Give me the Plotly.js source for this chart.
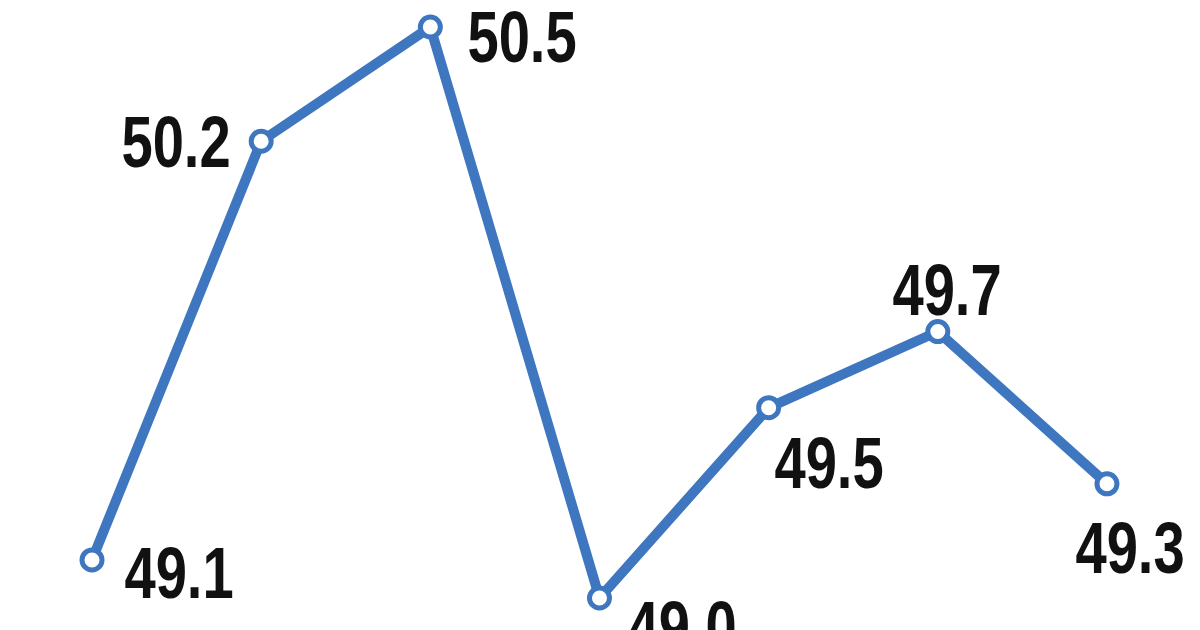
<!DOCTYPE html>
<html>
<head>
<meta charset="utf-8">
<script src="https://cdn.plot.ly/plotly-3.0.1.min.js"></script>
<style>
  html, body { margin: 0; padding: 0; background: #fff; }
  #chart { width: 1200px; height: 630px; }
  /* narrow the labels, the reference uses a condensed face */
  #chart text.annotation-text {
    transform-box: fill-box;
    transform-origin: 50% 50%;
    transform: scaleX(0.78);
  }
</style>
</head>
<body>
<div id="chart"></div>
<script>
var points = [0, 1, 2, 3, 4, 5, 6]
var values = [49.1, 50.2, 50.5, 49.0, 49.5, 49.7, 49.3]
var valueLabels = ["49.1", "50.2", "50.5", "49.0", "49.5", "49.7", "49.3"]

// label offsets from each marker, in pixels
var labelShift = [
    [87, -13], [-85, -1], [92, -10], [83, -29],
    [60, -55], [9, 42], [23, -64]
]

var blue = "#3e77bf"
var labelFont = {
    family: "Liberation Sans, Arial, sans-serif",
    size: 72,
    weight: "bold",
    color: "#111111",
}

Plotly.newPlot(
    document.getElementById("chart"),
    [{
        type: "scatter",
        mode: "lines+markers",
        x: points,
        y: values,
        line: { color: blue, width: 10 },
        marker: {
            symbol: "circle",
            size: 20,
            color: "#ffffff",
            line: { color: blue, width: 5 },
        },
        hoverinfo: "skip",
        cliponaxis: false,
    }],
    {
        width: 1200,
        height: 630,
        showlegend: false,
        paper_bgcolor: "#ffffff",
        plot_bgcolor: "#ffffff",
        margin: {t: 0, l: 0, r: 0, b: 0},
        xaxis: {
            range: [-0.544, 6.55],
            visible: false,
            fixedrange: true,
        },
        yaxis: {
            range: [48.916, 50.571],
            visible: false,
            fixedrange: true,
        },
        annotations: values.map(function (v, i) {
            return {
                x: points[i],
                y: v,
                text: valueLabels[i],
                showarrow: false,
                xanchor: "center",
                yanchor: "middle",
                xshift: labelShift[i][0],
                yshift: labelShift[i][1],
                font: labelFont,
            }
        }),
    },
    { staticPlot: true }
)
</script>
</body>
</html>
